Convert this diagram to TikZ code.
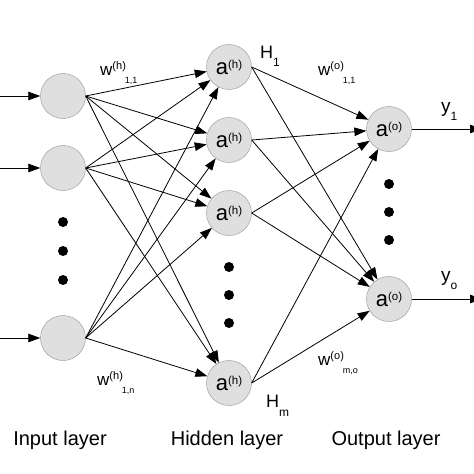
\documentclass[tikz,border=0pt]{standalone}
\usepackage{fontspec}
\setmainfont{Liberation Sans}
\usetikzlibrary{arrows.meta}

\newcommand{\fsz}[1]{\fontsize{#1}{#1}\selectfont}

\begin{document}
\begin{tikzpicture}[x=1pt,y=-1pt]
\tikzstyle{neuron} = [circle, draw=gray!85, fill=gray!25, minimum size=45pt, inner sep=0]
\tikzstyle{link} = [-{Triangle[length=12pt,width=8.5pt]}, line width=0.8pt]
\tikzstyle{lbl} = [anchor=base west, inner sep=0]

\useasboundingbox (0,0) rectangle (474,474);

% Strato di ingresso
\foreach \i/\y in {1/96, 2/168, 3/338} {
  \node[neuron] (i\i) at (63,\y) {};
  \coordinate (x\i) at (-5,\y);
  \draw[link] (x\i) -- (i\i);
}

% Strato nascosto
\foreach \h/\y in {1/67, 2/140, 3/213, 4/383} {
  \node[neuron] (h\h) at (229,\y) {\fsz{22}a\raisebox{6pt}{\fsz{11.5}(h)}};
}

% Strato di uscita
\foreach \o/\y in {1/129, 2/299} {
  \node[neuron] (o\o) at (389,\y) {\fsz{22}a\raisebox{6pt}{\fsz{11.5}(o)}};
  \coordinate (y\o) at (482,\y);
  \draw[link] (o\o.east) -- (y\o);
}

% Connessioni
\foreach \i in {1,2,3} {
  \foreach \h in {1,...,4} {
    \draw[link] (i\i.east) -- (h\h);
  }
}
\foreach \h in {1,...,4} {
  \foreach \o in {1,2} {
    \draw[link] (h\h.east) -- (o\o);
  }
}

% Puntini
\foreach \x/\y in {63/222, 63/251, 63/280, 229/267, 229/295, 229/323, 389/184, 389/212, 389/240} {
  \fill (\x,\y) circle (5pt);
}

% Pesi
\node[lbl] (wh11) at (100,75) {\fsz{17}w\raisebox{6pt}{\fsz{11}(h)}\kern-1pt\raisebox{-8pt}{\fsz{9}1,1}};
\node[lbl] (wh1n) at (97,385) {\fsz{17}w\raisebox{6pt}{\fsz{11}(h)}\kern-1pt\raisebox{-8pt}{\fsz{9}1,n}};
\node[lbl] (wo11) at (318,75) {\fsz{17}w\raisebox{6pt}{\fsz{11}(o)}\kern-1pt\raisebox{-8pt}{\fsz{9}1,1}};
\node[lbl] (womo) at (318,365) {\fsz{17}w\raisebox{6pt}{\fsz{11}(o)}\kern-1pt\raisebox{-8pt}{\fsz{9}m,o}};

% Etichette H e y
\node[lbl] (H1) at (260,58) {\fsz{18}H\raisebox{-8pt}{\fsz{12}1}};
\node[lbl] (Hm) at (266,407) {\fsz{18}H\raisebox{-9pt}{\fsz{12}m}};
\node[lbl] (y1) at (441,112) {\fsz{19}y\raisebox{-8pt}{\fsz{12}1}};
\node[lbl] (yo) at (441,281) {\fsz{19}y\raisebox{-8pt}{\fsz{12}o}};

% Etichette strati
\node[anchor=base] (lin) at (60,445) {\fsz{20}Input layer};
\node[anchor=base] (lhid) at (227,445) {\fsz{20}Hidden layer};
\node[anchor=base] (lout) at (386,445) {\fsz{20}Output layer};

\end{tikzpicture}
\end{document}
